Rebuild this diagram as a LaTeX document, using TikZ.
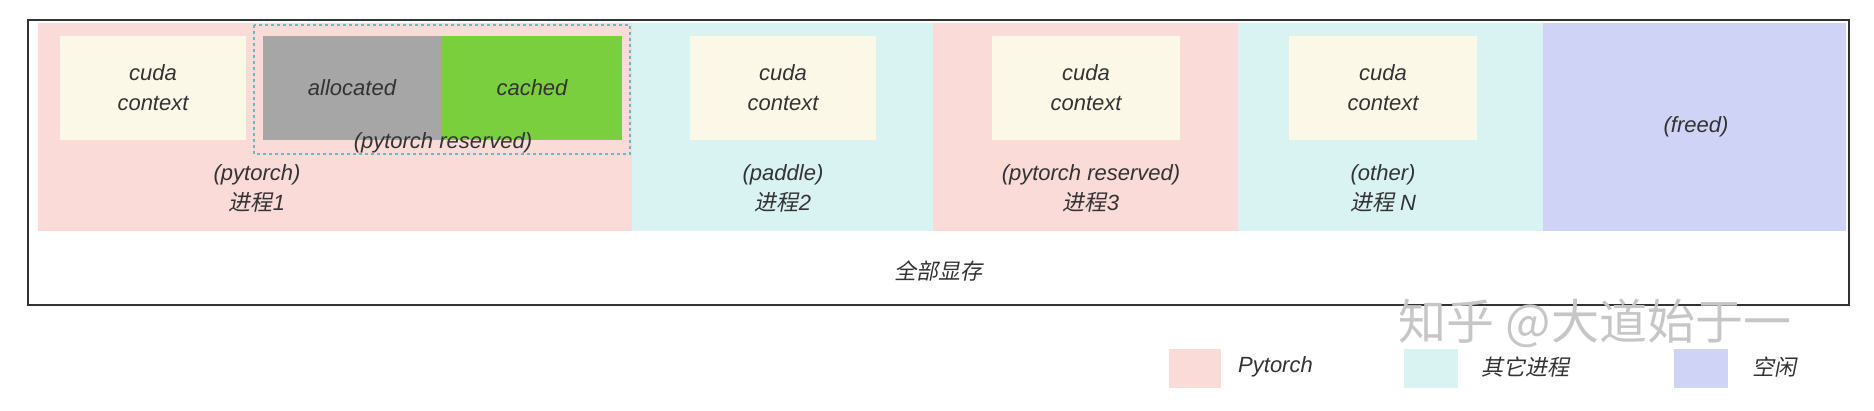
\documentclass[tikz,border=0pt]{standalone}
\usepackage{fontspec}
\setmainfont{Liberation Sans}
\newfontfamily\cjk[FakeSlant=0.2]{Noto Sans CJK SC}
\newfontfamily\cjkup{Noto Sans CJK SC}
\definecolor{pk}{HTML}{FADBD8}
\definecolor{cy}{HTML}{D9F3F2}
\definecolor{bl}{HTML}{CFD3F5}
\definecolor{cr}{HTML}{FCF8E8}
\definecolor{gr}{HTML}{A6A6A6}
\definecolor{gn}{HTML}{7ACF3E}
\definecolor{dsh}{HTML}{6BB8C0}
\definecolor{txt}{HTML}{333333}
\begin{document}
\begin{tikzpicture}[x=1pt,y=-1pt,
  lbl/.style={font=\fontsize{22}{30}\selectfont\itshape, text=txt, align=center, inner sep=0},
  reg/.style={draw=none},
  box/.style={draw=none}]
\useasboundingbox (0,0) rectangle (1874,411);
\fill[white] (0,0) rectangle (1874,411);
% regions
\fill[pk] (38,23) rectangle (632,231);
\fill[cy] (632,23) rectangle (933,231);
\fill[pk] (933,23) rectangle (1238,231);
\fill[cy] (1238,23) rectangle (1543,231);
\fill[bl] (1543,23) rectangle (1846,231);
% cuda boxes
\fill[cr] (60,36) rectangle (246,140);
\node[lbl] (c1) at (153,88) {cuda\\context};
\fill[gr] (263,36) rectangle (442,140);
\node[lbl] (al) at (352,88) {allocated};
\fill[gn] (442,36) rectangle (622,140);
\node[lbl] (ca) at (532,88) {cached};
\draw[dsh, dashed, line width=1.5pt] (254,25) rectangle (630,154);
\node[lbl] (pr) at (443,143) {(pytorch reserved)};
\node[lbl] (p1) at (257,188) {(pytorch)\\{\cjk 进程}1};
\fill[cr] (690,36) rectangle (876,140);
\node[lbl] (c2) at (783,88) {cuda\\context};
\node[lbl] (p2) at (783,188) {(paddle)\\{\cjk 进程}2};
\fill[cr] (992,36) rectangle (1180,140);
\node[lbl] (c3) at (1086,88) {cuda\\context};
\node[lbl] (p3) at (1091,188) {(pytorch reserved)\\{\cjk 进程}3};
\fill[cr] (1289,36) rectangle (1477,140);
\node[lbl] (c4) at (1383,88) {cuda\\context};
\node[lbl] (p4) at (1383,188) {(other)\\{\cjk 进程} N};
\node[lbl] (fr) at (1696,127) {(freed)};
\node[lbl] (all) at (938,271) {\cjk 全部显存};
\draw[txt, line width=2pt] (27.5,20) rectangle (1849,305);
% watermark
\node[font=\fontsize{48}{50}\selectfont\cjkup, text=gray!45, inner sep=0] (wm) at (1595,323) {知乎 @大道始于一};
% legend
\fill[pk] (1169,349) rectangle (1221,388);
\node[lbl, anchor=west] (l1) at (1238,367) {Pytorch};
\fill[cy] (1404,349) rectangle (1458,388);
\node[lbl, anchor=west] (l2) at (1481,367) {\cjk 其它进程};
\fill[bl] (1674,349) rectangle (1728,388);
\node[lbl, anchor=west] (l3) at (1752,367) {\cjk 空闲};
\end{tikzpicture}
\end{document}
